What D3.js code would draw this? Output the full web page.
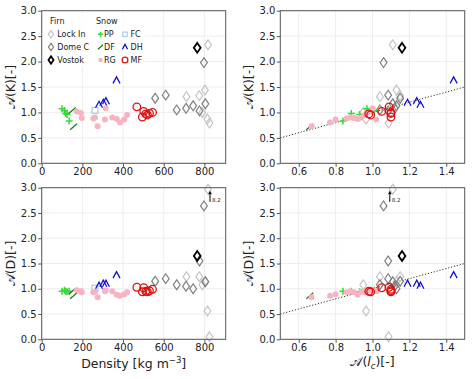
<!DOCTYPE html>
<html>
<head>
<meta charset="utf-8">
<script src="https://cdn.jsdelivr.net/npm/d3@7"></script>
<style>
  body { margin: 0; background: #fff; }
  svg { font-family: "DejaVu Sans", sans-serif; }
</style>
</head>
<body>
<script>
// ---- data ----
const lockDensity = [818, 712, 775, 803, 790, 815, 825];
const lockAK = [2.33, 1.31, 1.33, 1.44, 1.0, 0.87, 0.79];
const lockAD = [8.2, 1.24, 1.24, 1.14, 1.08, 0.56, 0.05];
const lockAlc = [1.11, 1.04, 1.15, 1.13, 0.95, 0.965, 1.087];

const domeDensity = [798, 558, 610, 664, 710, 745, 776, 805];
const domeAK = [1.98, 1.28, 1.34, 1.05, 1.08, 1.13, 1.03, 1.17];
const domeAD = [2.64, 1.15, 1.20, 1.08, 1.05, 1.0, 1.55, 1.14];
const domeAlc = [1.06, 1.15, 1.085, 1.04, 1.12, 1.13, 1.085, 1.11];

const vostokDensity = [765];
const vostokAK = [2.27];
const vostokAD = [1.65];
const vostokAlc = [1.16];

const ppDensity = [100, 112, 118, 125, 135];
const ppAK = [1.07, 1.04, 0.98, 0.96, 0.83];
const ppAD = [0.95, 0.97, 0.95, 0.94, 0.95];
const ppAlc = [0.97, 1.01, 0.885, 0.93, 0.84];

const dfDensity = [150, 157];
const dfAK = [1.04, 0.72];
const dfAD = [0.95, 0.86];
const dfAlc = [null, 0.66];

const fcDensity = [262];
const fcAK = [1.04];
const fcAD = [1.01];
const fcAlc = [null];

const dhDensity = [282, 303, 316, 368];
const dhAK = [1.15, 1.19, 1.22, 1.63];
const dhAD = [1.06, 1.10, 1.10, 1.27];
const dhAlc = [1.26, 1.19, 1.24, 1.44];

const rgDensity = [172, 193, 197, 254, 262, 275, 311, 315, 347, 369, 385, 406, 420];
const rgAK = [1.02, 0.99, 0.89, 0.88, 0.90, 0.73, 0.86, 1.08, 0.90, 0.87, 0.80, 0.86, 0.95];
const rgAD = [0.97, 0.95, 0.93, 0.93, 0.94, 0.83, 0.95, 0.97, 0.95, 0.88, 0.86, 0.89, 0.93];
const rgAlc = [0.99, 0.97, 0.90, 0.86, 0.94, 0.67, 1.02, 1.0, 0.88, 0.92, 0.77, 0.80, 0.96];

const mfDensity = [468, 495, 502, 512, 520, 530, 545];
const mfAK = [1.11, 0.91, 1.02, 0.97, 0.95, 0.98, 1.0];
const mfAD = [1.03, 0.94, 1.02, 0.95, 0.94, 0.96, 0.99];
const mfAlc = [1.09, 1.10, 1.05, 0.98, 0.99, 1.10, 1.10];

const densityTicks = [0, 200, 400, 600, 800];
const alcTicks = [0.6, 0.8, 1.0, 1.2, 1.4];
const yTicks = [0, 0.5, 1.0, 1.5, 2.0, 2.5, 3.0];
const oneToOne = [0.5, 1.5];
const offLabel = "8.2";

// ---- series ----
const series = [
  {name: "Lock In", d: lockDensity, K: lockAK, D: lockAD, l: lockAlc, shape: "diamond", color: "#c4c4c4", sw: 1.2},
  {name: "Dome C", d: domeDensity, K: domeAK, D: domeAD, l: domeAlc, shape: "diamond", color: "#7f7f7f", sw: 1.2},
  {name: "Vostok", d: vostokDensity, K: vostokAK, D: vostokAD, l: vostokAlc, shape: "diamond", color: "#000", sw: 1.8},
  {name: "PP", d: ppDensity, K: ppAK, D: ppAD, l: ppAlc, shape: "plus", color: "#33dd33", sw: 1.5},
  {name: "DF", d: dfDensity, K: dfAK, D: dfAD, l: dfAlc, shape: "slash", color: "#1f7a1f", sw: 1.3},
  {name: "FC", d: fcDensity, K: fcAK, D: fcAD, l: fcAlc, shape: "square", color: "#a8cbef", sw: 1.2},
  {name: "DH", d: dhDensity, K: dhAK, D: dhAD, l: dhAlc, shape: "caret", color: "#1010d0", sw: 1.3},
  {name: "RG", d: rgDensity, K: rgAK, D: rgAD, l: rgAlc, shape: "dot", color: "#f7b3c2", sw: 0},
  {name: "MF", d: mfDensity, K: mfAK, D: mfAD, l: mfAlc, shape: "circle", color: "#e01010", sw: 1.3}
];
// legend slot [column, row] for each series above
const legendSlots = [[0, 0], [0, 1], [0, 2], [1, 0], [1, 1], [2, 0], [2, 1], [1, 2], [2, 2]];

const width = 474, height = 379;
const svg = d3.select("body").append("svg").attr("width", width).attr("height", height);

function marker(g, s, x, y, scale) {
  const k = scale || 1;
  if (s.shape === "diamond") {
    g.append("path").attr("d", `M${x},${y - 4.9 * k}L${x + 3.4 * k},${y}L${x},${y + 4.9 * k}L${x - 3.4 * k},${y}Z`)
      .attr("fill", "none").attr("stroke", s.color).attr("stroke-width", s.sw);
  } else if (s.shape === "plus") {
    g.append("path").attr("d", `M${x - 3.5 * k},${y}H${x + 3.5 * k}M${x},${y - 3.5 * k}V${y + 3.5 * k}`)
      .attr("stroke", s.color).attr("stroke-width", s.sw);
  } else if (s.shape === "slash") {
    g.append("path").attr("d", `M${x - 3.5 * k},${y + 3 * k}L${x + 3.5 * k},${y - 3 * k}`)
      .attr("stroke", s.color).attr("stroke-width", s.sw);
  } else if (s.shape === "square") {
    g.append("rect").attr("x", x - 3 * k).attr("y", y - 3 * k).attr("width", 6 * k).attr("height", 6 * k)
      .attr("fill", "none").attr("stroke", s.color).attr("stroke-width", s.sw);
  } else if (s.shape === "caret") {
    g.append("path").attr("d", `M${x - 3.5 * k},${y + 3 * k}L${x},${y - 3.5 * k}L${x + 3.5 * k},${y + 3 * k}`)
      .attr("fill", "none").attr("stroke", s.color).attr("stroke-width", s.sw);
  } else if (s.shape === "dot") {
    g.append("circle").attr("cx", x).attr("cy", y).attr("r", 3 * k).attr("fill", s.color);
  } else {
    g.append("circle").attr("cx", x).attr("cy", y).attr("r", 3.8 * k)
      .attr("fill", "none").attr("stroke", s.color).attr("stroke-width", s.sw);
  }
}

const panels = [
  {x0: 41.7, x1: 225.7, y0: 10.7, y1: 163.3, xKey: "d", yKey: "K", xDom: [0, 905], ticks: densityTicks, fmt: d3.format("d"), yName: "K"},
  {x0: 280.3, x1: 464.7, y0: 10.7, y1: 163.3, xKey: "l", yKey: "K", xDom: [0.5, 1.5], ticks: alcTicks, fmt: d3.format(".1f"), yName: "K", line: true},
  {x0: 41.7, x1: 225.7, y0: 187.7, y1: 339.3, xKey: "d", yKey: "D", xDom: [0, 905], ticks: densityTicks, fmt: d3.format("d"), yName: "D", xlabel: "density"},
  {x0: 280.3, x1: 464.7, y0: 187.7, y1: 339.3, xKey: "l", yKey: "D", xDom: [0.5, 1.5], ticks: alcTicks, fmt: d3.format(".1f"), yName: "D", line: true, xlabel: "alc"}
];

panels.forEach(function(p, pi) {
  const x = d3.scaleLinear().domain(p.xDom).range([p.x0, p.x1]);
  const y = d3.scaleLinear().domain([0, 3]).range([p.y1, p.y0]);
  const g = svg.append("g");

  // grid
  g.selectAll(".gx").data(p.ticks).enter().append("line")
    .attr("x1", (d) => x(d)).attr("x2", (d) => x(d)).attr("y1", p.y0).attr("y2", p.y1)
    .attr("stroke", "#e8e8e8").attr("stroke-width", 0.8);
  g.selectAll(".gy").data(yTicks).enter().append("line")
    .attr("x1", p.x0).attr("x2", p.x1).attr("y1", (d) => y(d)).attr("y2", (d) => y(d))
    .attr("stroke", "#e8e8e8").attr("stroke-width", 0.8);

  // axes
  const ax = g.append("g").attr("transform", `translate(0,${p.y1})`)
    .call(d3.axisBottom(x).tickValues(p.ticks).tickFormat(p.fmt).tickSize(3.5).tickPadding(1.5));
  const ay = g.append("g").attr("transform", `translate(${p.x0},0)`)
    .call(d3.axisLeft(y).tickValues(yTicks).tickFormat(d3.format(".1f")).tickSize(3.5).tickPadding(1.5));
  [ax, ay].forEach(function(a) {
    a.select(".domain").remove();
    a.selectAll("line").attr("stroke", "#555");
    a.selectAll("text").attr("fill", "#222").style("font-size", "10px").style("font-family", "DejaVu Sans");
  });

  // 1:1 line
  if (p.line) {
    g.append("line").attr("x1", x(oneToOne[0])).attr("y1", y(oneToOne[0]))
      .attr("x2", x(oneToOne[1])).attr("y2", y(oneToOne[1]))
      .attr("stroke", "#333").attr("stroke-width", 1).attr("stroke-dasharray", "1.2,1.8");
  }

  // points
  const pts = g.append("g");
  series.forEach(function(s) {
    s[p.xKey].forEach(function(xv, i) {
      const yv = s[p.yKey][i];
      if (xv == null || yv == null) return;
      const yy = yv > 3 ? 2.97 : yv;
      marker(pts, s, x(xv), y(yy));
      if (yv > 3) {
        const ax0 = x(xv) + (pi === 3 ? -3 : 2);
        g.append("line").attr("x1", ax0).attr("x2", ax0).attr("y1", y(2.72)).attr("y2", y(2.87))
          .attr("stroke", "#000").attr("stroke-width", 1);
        g.append("path").attr("d", `M${ax0 - 1.8},${y(2.87)}L${ax0},${y(2.94)}L${ax0 + 1.8},${y(2.87)}Z`).attr("fill", "#000");
        g.append("text").attr("x", ax0 + 2).attr("y", y(2.71)).text(offLabel)
          .style("font-size", "5.5px").attr("fill", "#222");
      }
    });
  });

  // frame
  g.append("rect").attr("x", p.x0).attr("y", p.y0).attr("width", p.x1 - p.x0).attr("height", p.y1 - p.y0)
    .attr("fill", "none").attr("stroke", "#555").attr("stroke-width", 1);

  // y label
  const lx = p.x0 - 27;
  const ly = (p.y0 + p.y1) / 2;
  const yl = g.append("text").attr("transform", `translate(${lx},${ly}) rotate(-90)`)
    .attr("text-anchor", "middle").style("font-size", "12.5px").attr("fill", "#222");
  yl.append("tspan").text("\u{1D49C}");
  yl.append("tspan").text(`(${p.yName})[-]`);

  if (p.xlabel === "density") {
    const t = g.append("text").attr("x", (p.x0 + p.x1) / 2).attr("y", 368)
      .attr("text-anchor", "middle").style("font-size", "12.5px").attr("fill", "#222");
    t.append("tspan").text("Density [kg m");
    t.append("tspan").attr("dy", -5).style("font-size", "8.5px").text("\u22123");
    t.append("tspan").attr("dy", 5).text("]");
  } else if (p.xlabel === "alc") {
    const t = g.append("text").attr("x", (p.x0 + p.x1) / 2).attr("y", 366)
      .attr("text-anchor", "middle").style("font-size", "12.5px").attr("fill", "#222");
    t.append("tspan").text("\u{1D49C}(");
    t.append("tspan").style("font-style", "italic").text("l");
    t.append("tspan").attr("dy", 3).style("font-size", "8.5px").style("font-style", "italic").text("c");
    t.append("tspan").attr("dy", -3).text(")[-]");
  }

  // legend in first panel
  if (pi === 0) {
    const lg = svg.append("g");
    lg.append("rect").attr("x", 45).attr("y", 13).attr("width", 100).attr("height", 54)
      .attr("fill", "#fff").attr("fill-opacity", 0.8);
    lg.append("text").attr("x", 50).attr("y", 23.5).text("Firn").style("font-size", "8px").attr("fill", "#222");
    lg.append("text").attr("x", 96).attr("y", 23.5).text("Snow").style("font-size", "8px").attr("fill", "#222");
    const rows = [34.3, 47, 60];
    const cols = [{mx: 51, tx: 57.3}, {mx: 100.5, tx: 104}, {mx: 125, tx: 130.5}];
    series.forEach(function(s, i) {
      const c = cols[legendSlots[i][0]];
      const r = rows[legendSlots[i][1]];
      marker(lg, s, c.mx, r, 0.75);
      lg.append("text").attr("x", c.tx).attr("y", r + 3).text(s.name)
        .style("font-size", "8px").attr("fill", "#222");
    });
  }
});
</script>
</body>
</html>
